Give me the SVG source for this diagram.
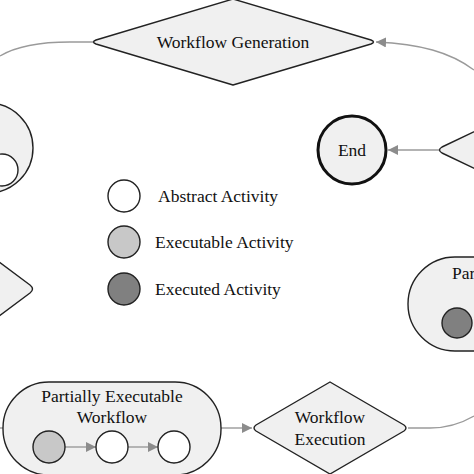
<svg xmlns="http://www.w3.org/2000/svg" width="474" height="474" viewBox="0 0 474 474">
<defs>
<marker id="arr" viewBox="0 0 10 10" refX="10" refY="5" markerWidth="10" markerHeight="10" markerUnits="userSpaceOnUse" orient="auto">
<path d="M0,0 L10,5 L0,10 z" fill="#8c8c8c"/>
</marker>
<style>
.node{fill:#f0f0f0;stroke:#222;stroke-width:1.4;stroke-linejoin:round}
.end{fill:#f0f0f0;stroke:#111;stroke-width:3}
.edge{fill:none;stroke:#9a9a9a;stroke-width:1.4}
.arr{marker-end:url(#arr)}
.t{font-family:"Liberation Serif","Times New Roman",serif;font-size:17.5px;fill:#111;text-anchor:middle;dominant-baseline:central}
.tl{font-family:"Liberation Serif","Times New Roman",serif;font-size:17.5px;fill:#111;text-anchor:start;dominant-baseline:central}
.abs{fill:#fff;stroke:#222;stroke-width:1.4}
.exe{fill:#c8c8c8;stroke:#222;stroke-width:1.4}
.done{fill:#808080;stroke:#222;stroke-width:1.4}
</style>
</defs>
<rect width="474" height="474" fill="#fff"/>
<g id="connectors">
<path class="edge" d="M93,42 L70,42 C40,42 15,47 0,56"/>
<path class="edge arr" d="M474,70 C450,52 420,44 376,42"/>
<path class="edge arr" d="M439,150 L388,150"/>
<path class="edge" d="M0,428 L3,428"/>
<path class="edge arr" d="M221,428 L252,428"/>
<path class="edge" d="M408,428 L430,428 C448,428 462,423 474,416"/>
</g>
<g id="workflow-generation">
<path class="node" d="M233,-1 L371,40 Q376,42 371,44 L233,85 L96,44 Q91,42 96,40 Z"/>
<text class="t" x="233" y="42">Workflow Generation</text>
</g>
<g id="left-workflow">
<circle class="node" cx="-12" cy="148" r="45"/>
<circle class="abs" cx="2" cy="170" r="16"/>
</g>
<g id="left-decision">
<path class="node" d="M-40,233 L30,285 Q35,289 30,293 L-40,345 Z"/>
</g>
<g id="end">
<circle class="end" cx="352" cy="150" r="34"/>
<text class="t" x="352" y="150">End</text>
</g>
<g id="right-decision">
<path class="node" d="M520,110 L442,147 Q437,150 442,153 L520,190 Z"/>
</g>
<g id="right-workflow">
<rect class="node" x="408" y="257" width="140" height="94" rx="47"/>
<text class="tl" x="452" y="273">Par</text>
<circle class="done" cx="457" cy="323" r="15"/>
</g>
<g id="legend">
<circle class="abs" cx="124" cy="196" r="16"/>
<text class="tl" x="158" y="196">Abstract Activity</text>
<circle class="exe" cx="124" cy="242" r="16"/>
<text class="tl" x="155" y="242">Executable Activity</text>
<circle class="done" cx="124" cy="289" r="16"/>
<text class="tl" x="155" y="289">Executed Activity</text>
</g>
<g id="partially-executable-workflow">
<rect class="node" x="3" y="382" width="218" height="93" rx="46"/>
<text class="t" x="112" y="396">Partially Executable</text>
<text class="t" x="112" y="417">Workflow</text>
<path class="edge arr" d="M65,447 L96,447"/>
<path class="edge arr" d="M128,447 L158,447"/>
<circle class="exe" cx="49" cy="447" r="16"/>
<circle class="abs" cx="112" cy="447" r="16"/>
<circle class="abs" cx="174" cy="447" r="16"/>
</g>
<g id="workflow-execution">
<path class="node" d="M330,382 L404,425 Q408,428 404,431 L330,474 L256,431 Q252,428 256,425 Z"/>
<text class="t" x="330" y="417">Workflow</text>
<text class="t" x="330" y="439">Execution</text>
</g>
</svg>
